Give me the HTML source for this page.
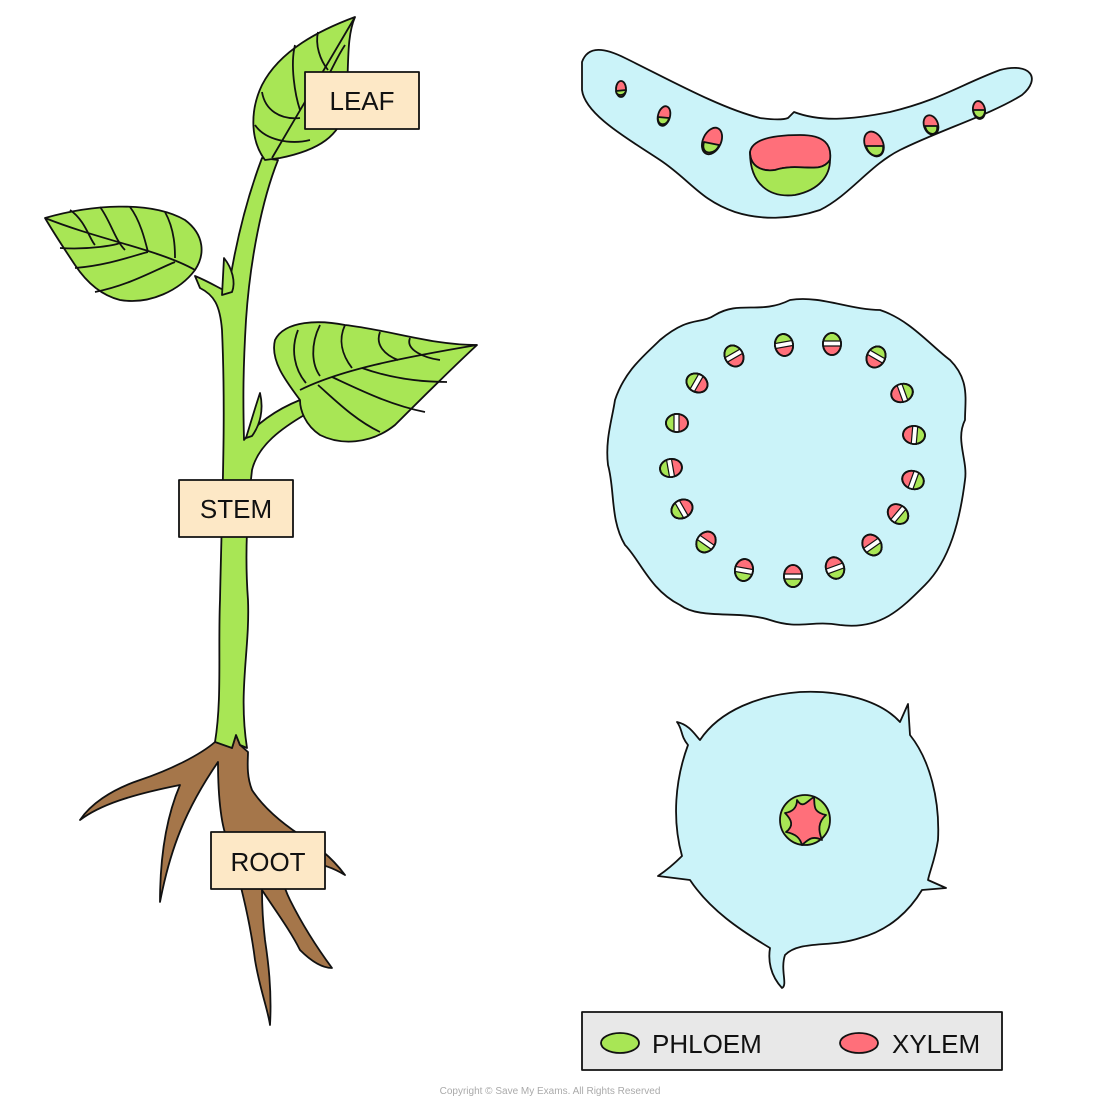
<!DOCTYPE html>
<html><head><meta charset="utf-8"><style>
html,body{margin:0;padding:0;background:#fff}
svg{display:block}
text{font-family:"Liberation Sans",sans-serif}
</style></head><body>
<svg width="1100" height="1103" viewBox="0 0 1100 1103" xmlns="http://www.w3.org/2000/svg">
<defs>
<g id="vb"><ellipse rx="9" ry="11" fill="#ff6f7a"/><path d="M-9,0 A9,11 0 0 1 9,0 Z" fill="#a8e655"/><rect x="-9" y="-3" width="18" height="5" fill="#fff" stroke="#111" stroke-width="1.2"/><ellipse rx="9" ry="11" fill="none"/></g>
</defs>
<g stroke="#111" stroke-width="1.8" stroke-linejoin="round">
<!-- roots -->
<path fill="#a5764a" d="M215,742 C200,755 170,770 140,780 C110,790 90,805 80,820 C100,805 130,795 180,785 C165,820 160,860 160,902 C170,850 185,810 218,762 C218,800 222,830 228,840 C240,880 250,920 255,960 C260,990 268,1010 270,1025 C272,990 268,960 265,940 C262,915 262,895 262,890 C275,910 290,930 300,950 C315,965 325,968 332,968 C315,945 300,920 290,900 C285,890 282,880 280,870 C300,860 320,860 345,875 C330,855 315,845 300,835 C285,825 265,810 252,790 C246,775 248,760 248,752 L240,745 L236,735 L232,748 L228,742 Z"/>
<!-- stem -->
<path fill="#a8e655" d="M262,158 L278,160 C262,200 250,260 246,320 C243,370 243,400 244,440 C255,425 275,410 300,400 L306,414 C282,428 258,445 252,470 C246,520 245,560 248,600 C250,650 238,690 247,748 L240,745 L236,735 L232,748 L215,742 C222,700 218,650 220,600 C222,500 226,420 222,330 C220,305 214,295 200,288 L195,276 C210,282 222,290 228,292 C236,240 248,195 262,158 Z"/>
<path fill="#a8e655" d="M222,295 L224,258 C232,268 236,282 232,292 Z"/>
<path fill="#a8e655" d="M246,438 C250,425 255,408 260,393 C264,410 260,425 252,436 Z"/>
<!-- top leaf -->
<path fill="#a8e655" d="M265,160 C250,140 250,110 262,85 C280,50 320,30 355,17 C345,40 350,75 345,110 C340,135 320,150 280,158 Z"/>
<g fill="none"><path d="M272,158 C300,110 330,60 355,17"/><path d="M262,92 C265,110 280,120 300,118"/><path d="M255,125 C265,140 290,145 310,140"/><path d="M295,45 C290,65 295,95 300,110"/><path d="M318,32 C315,45 320,60 328,70"/><path d="M345,45 C335,60 330,75 325,80"/></g>
<!-- left leaf -->
<path fill="#a8e655" d="M45,218 C90,205 150,200 185,220 C205,235 205,255 195,270 C180,290 150,305 120,300 C100,295 85,280 75,265 C65,250 55,235 45,218 Z"/>
<g fill="none"><path d="M45,218 C100,240 160,250 195,270"/><path d="M70,210 C85,220 90,240 95,245"/><path d="M100,207 C110,220 115,240 125,250"/><path d="M130,207 C140,220 145,240 148,252"/><path d="M165,212 C175,230 175,250 175,258"/><path d="M60,248 C90,250 115,245 120,243"/><path d="M75,268 C110,265 135,255 148,252"/><path d="M95,292 C130,285 155,270 175,262"/></g>
<!-- right leaf -->
<path fill="#a8e655" d="M300,400 C285,380 270,360 275,340 C285,320 320,320 345,325 C390,330 430,345 477,345 C450,370 420,400 395,425 C370,445 340,445 320,435 C305,425 300,410 300,400 Z"/>
<g fill="none"><path d="M300,390 C340,370 400,358 477,345"/><path d="M298,330 C290,350 295,370 306,383"/><path d="M320,325 C310,345 312,365 320,376"/><path d="M345,325 C338,340 342,355 352,368"/><path d="M380,332 C375,345 385,355 398,360"/><path d="M410,338 C405,350 425,358 440,360"/><path d="M318,385 C335,400 355,420 380,432"/><path d="M332,377 C360,390 390,405 425,412"/><path d="M362,368 C390,378 420,382 447,382"/></g>
<!-- labels -->
<rect x="305" y="72" width="114" height="57" fill="#fde8c6"/>
<rect x="179" y="480" width="114" height="57" fill="#fde8c6"/>
<rect x="211" y="832" width="114" height="57" fill="#fde8c6"/>
</g>
<g font-size="26" fill="#111" text-anchor="middle">
<text x="362" y="110">LEAF</text>
<text x="236" y="518">STEM</text>
<text x="268" y="871">ROOT</text>
</g>
<g stroke="#111" stroke-width="1.8" stroke-linejoin="round">
<!-- leaf section -->
<path fill="#cbf3f9" d="M582,62 C588,45 605,48 625,58 C670,80 720,108 760,118 C775,120 783,120 788,118 L794,112 C820,122 850,120 890,112 C940,100 960,85 1000,70 C1030,62 1042,78 1022,95 C990,115 940,130 900,150 C870,165 850,195 820,210 C790,220 760,220 735,212 C700,200 690,180 660,160 C630,140 585,115 582,90 Z"/>
<path fill="#ff6f7a" d="M750,152 C752,140 770,135 800,135 C825,135 832,145 830,160 C820,175 800,162 775,170 C760,172 750,165 750,152 Z"/>
<path fill="#a8e655" d="M750,152 C750,165 760,172 775,170 C800,162 820,175 830,160 C830,175 820,190 795,195 C770,198 750,185 750,152 Z"/>
<g>
<ellipse cx="621" cy="89" rx="5" ry="8" fill="#ff6f7a"/><path d="M616,91 L626,90 C626,96 616,97 616,91Z" fill="#a8e655"/>
<ellipse cx="664" cy="116" rx="6" ry="10" fill="#ff6f7a" transform="rotate(15 664 116)"/><path d="M658,117 L669,118 C668,126 657,127 658,117Z" fill="#a8e655"/>
<ellipse cx="712" cy="141" rx="9" ry="14" fill="#ff6f7a" transform="rotate(25 712 141)"/><path d="M704,142 L719,145 C716,155 700,156 704,142Z" fill="#a8e655"/>
<ellipse cx="874" cy="144" rx="9" ry="13" fill="#ff6f7a" transform="rotate(-25 874 144)"/><path d="M866,146 L883,146 C885,158 870,160 866,146Z" fill="#a8e655"/>
<ellipse cx="931" cy="125" rx="7" ry="10" fill="#ff6f7a" transform="rotate(-20 931 125)"/><path d="M925,126 L937,126 C939,136 927,137 925,126Z" fill="#a8e655"/>
<ellipse cx="979" cy="110" rx="6" ry="9" fill="#ff6f7a" transform="rotate(-10 979 110)"/><path d="M973,110 L985,110 C985,120 975,121 973,110Z" fill="#a8e655"/>
</g>
<!-- stem section -->
<path fill="#cbf3f9" d="M660,340 C690,315 700,325 715,315 C740,300 760,315 790,300 C820,295 850,310 880,310 C910,320 930,345 950,360 C970,380 965,400 965,420 C955,440 968,460 965,480 C960,520 950,560 925,585 C900,610 880,630 840,625 C810,620 800,630 770,620 C740,610 700,620 680,605 C650,590 640,560 625,545 C610,520 615,490 608,465 C605,440 612,420 615,400 C625,370 645,355 660,340 Z"/>
<use href="#vb" transform="translate(734,356) rotate(-30)"/>
<use href="#vb" transform="translate(784,345) rotate(-10)"/>
<use href="#vb" transform="translate(832,344) rotate(0)"/>
<use href="#vb" transform="translate(876,357) rotate(30)"/>
<use href="#vb" transform="translate(902,393) rotate(70)"/>
<use href="#vb" transform="translate(914,435) rotate(95)"/>
<use href="#vb" transform="translate(913,480) rotate(110)"/>
<use href="#vb" transform="translate(898,514) rotate(130)"/>
<use href="#vb" transform="translate(872,545) rotate(145)"/>
<use href="#vb" transform="translate(835,568) rotate(160)"/>
<use href="#vb" transform="translate(793,576) rotate(180)"/>
<use href="#vb" transform="translate(744,570) rotate(190)"/>
<use href="#vb" transform="translate(706,542) rotate(215)"/>
<use href="#vb" transform="translate(682,509) rotate(240)"/>
<use href="#vb" transform="translate(671,468) rotate(260)"/>
<use href="#vb" transform="translate(677,423) rotate(270)"/>
<use href="#vb" transform="translate(697,383) rotate(300)"/>
<!-- root section -->
<path fill="#cbf3f9" d="M700,740 C720,710 760,695 800,692 C840,690 880,700 900,722 L908,704 L910,735 C930,760 940,800 938,840 C935,860 930,870 928,880 L946,888 L922,890 C910,910 890,930 860,938 C830,948 800,940 785,955 C780,970 788,985 782,988 C770,975 768,960 770,948 C740,930 710,910 690,880 L658,876 C670,868 678,860 682,856 C672,820 675,780 688,745 C680,735 683,730 677,722 C690,725 695,735 700,740 Z"/>
<circle cx="805" cy="820" r="25" fill="#a8e655"/>
<path fill="#ff6f7a" d="M797,800 C803,810 808,800 814,797 C815,805 812,812 826,815 C818,822 818,830 822,840 C812,835 808,840 802,845 C800,838 796,834 786,832 C794,826 792,820 785,813 C792,812 797,808 797,800 Z"/>
<!-- legend -->
<rect x="582" y="1012" width="420" height="58" fill="#e8e8e8"/>
<ellipse cx="620" cy="1043" rx="19" ry="10" fill="#a8e655"/>
<ellipse cx="859" cy="1043" rx="19" ry="10" fill="#ff6f7a"/>
</g>
<g font-size="26" fill="#111">
<text x="652" y="1053">PHLOEM</text>
<text x="892" y="1053">XYLEM</text>
</g>
<text x="550" y="1094" font-size="10" fill="#aaa" text-anchor="middle">Copyright © Save My Exams. All Rights Reserved</text>
</svg>
</body></html>
